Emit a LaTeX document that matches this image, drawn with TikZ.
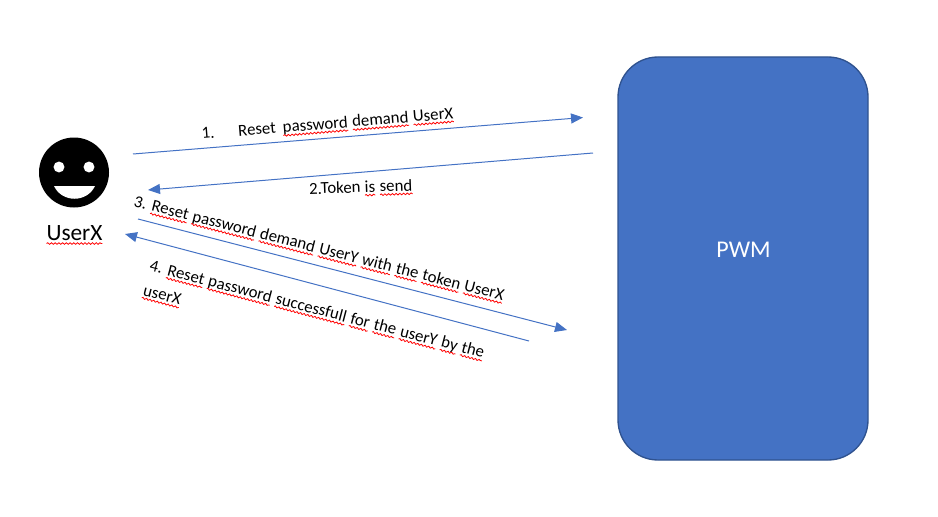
\documentclass[tikz,border=0pt]{standalone}
\usepackage{fontspec}
\setmainfont{Carlito}
\usetikzlibrary{arrows.meta,decorations.pathmorphing}
\definecolor{pwmblue}{HTML}{4472C4}
\definecolor{pwmedge}{HTML}{2F528F}
\newcommand\wv[1]{\tikz[baseline=(w.base)]{\node[inner sep=0pt,outer sep=0pt,rotate=0](w){\strut #1};\draw[red,line width=.6pt,decorate,decoration={snake,amplitude=.6pt,segment length=2.8pt}] ([yshift=-2.2pt]w.base west) -- ([yshift=-2.2pt]w.base east);}}
\tikzset{
  x=0.75pt,y=-0.75pt,
  msg/.style={pwmblue,line width=.75pt,-{Triangle[length=9pt,width=7.5pt]}},
  lab/.style={inner sep=0pt,font=\fontsize{12.6pt}{15pt}\selectfont,text=black},
  face/.style={circle,fill=black,minimum size=52.5pt,inner sep=0pt},
  eye/.style={circle,fill=white,minimum size=8.2pt,inner sep=0pt},
  pwmbox/.style={draw=pwmedge,line width=1pt,fill=pwmblue,rounded corners=30pt,minimum width=187.5pt,minimum height=302.25pt},
  pwmtext/.style={inner sep=0pt,text=white,font=\fontsize{18pt}{21pt}\selectfont}
}
\begin{document}
\begin{tikzpicture}
\useasboundingbox (0,0) rectangle (938,517);
\node[pwmbox] (pwm) at (743,258.5) {};
\node[pwmtext] (pwml) at (743.5,249.5) {PWM};
\node[face] (face) at (74,172.5) {};
\node[eye] (eyel) at (59,167) {};
\node[eye] (eyer) at (89,167) {};
\fill[white] (54,186) .. controls (62,203) and (87,203) .. (95,186) -- cycle;
\node[inner sep=0pt,font=\fontsize{17.5pt}{21pt}\selectfont] (userx) at (74.5,235) {\wv{UserX}};
\coordinate (a1) at (133,154); \coordinate (b1) at (583,117.5);
\coordinate (a2) at (593,153); \coordinate (b2) at (148,190);
\coordinate (a3) at (138,219); \coordinate (b3) at (567,330);
\coordinate (a4) at (529,341); \coordinate (b4) at (125,234);
\draw[msg] (a1) -- (b1);
\draw[msg] (a2) -- (b2);
\draw[msg] (a3) -- (b3);
\draw[msg] (a4) -- (b4);
\node[lab,rotate=4.7] (l1a) at (208,133) {1.};
\node[lab,rotate=4.7] (l1b) at (346,123.5) {Reset\, \wv{password} \wv{demand} \wv{UserX}};
\node[lab,rotate=2] (l2) at (361,188.5) {2.Token \wv{is} \wv{send}};
\node[lab,rotate=-14.3] (l3) at (319,249.5) {3. \wv{Reset} \wv{password} \wv{demand} \wv{UserY} \wv{with} \wv{the} \wv{token} \wv{UserX}};
\node[lab,rotate=-14.7] (l4) at (317,310.5) {4. \wv{Reset} \wv{password} \wv{successfull} \wv{for} \wv{the} \wv{userY} \wv{by} \wv{the}};
\node[lab,rotate=-14.7] (l4b) at (162,296) {\wv{userX}};
\end{tikzpicture}
\end{document}
